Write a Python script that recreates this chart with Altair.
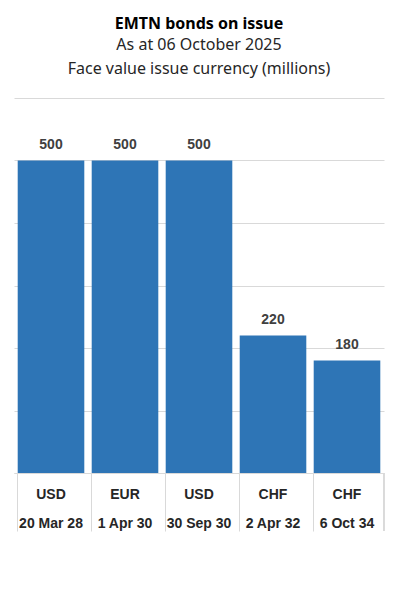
import altair as alt
import pandas as pd

currencies = ["USD", "EUR", "USD", "CHF", "CHF"]
maturities = ["20 Mar 28", "1 Apr 30", "30 Sep 30", "2 Apr 32", "6 Oct 34"]
values = [500, 500, 500, 220, 180]

df = pd.DataFrame({
    "label": [f"{c}|{m}" for c, m in zip(currencies, maturities)],
    "value": values,
})

W, H = 370, 375
FONT = "Liberation Sans"

x = alt.X(
    "label:N",
    sort=None,
    scale=alt.Scale(paddingInner=0.1, paddingOuter=0.05),
    axis=alt.Axis(
        title=None,
        labelAngle=0,
        labelExpr="split(datum.label, '|')",
        labelFont=FONT,
        labelFontSize=14,
        labelFontWeight="bold",
        labelColor="#262626",
        labelLineHeight=29,
        labelPadding=-44,
        bandPosition=0,
        tickSize=58,
        tickColor="#d9d9d9",
        domainColor="#d9d9d9",
        grid=False,
    ),
)

y = alt.Y(
    "value:Q",
    scale=alt.Scale(domain=[0, 600]),
    axis=alt.Axis(
        title=None,
        labels=False,
        ticks=False,
        domain=False,
        values=[0, 100, 200, 300, 400, 500, 600],
        gridColor="#d9d9d9",
    ),
)

base = alt.Chart(df).encode(x=x, y=y)

bars = base.mark_bar(color="#2E75B6")

text = base.mark_text(
    dy=-9, baseline="bottom", font=FONT, fontSize=14, fontWeight="bold", color="#404040"
).encode(text="value:Q")

edge = alt.Chart(df).mark_rule(color="#d9d9d9").encode(
    x=alt.value(W), y=alt.value(H), y2=alt.value(H + 58)
)

chart = alt.layer(bars, text, edge).properties(
    width=W,
    height=H,
    background="white",
    autosize=alt.AutoSizeParams(type="none"),
    padding={"left": 6, "top": 90, "right": 8, "bottom": 70},
    title=alt.TitleParams(
        text="EMTN bonds on issue",
        subtitle=["As at 06 October 2025", "Face value issue currency (millions)"],
        font="Noto Sans",
        fontSize=16,
        fontWeight="bold",
        color="#000000",
        subtitleFont="Noto Sans",
        subtitleFontSize=16,
        subtitleColor="#262626",
        subtitleLineHeight=24,
        subtitlePadding=5,
        anchor="middle",
        offset=21,
    ),
).configure_view(strokeWidth=0)

chart.save("out.html", embed_options={"renderer": "svg", "actions": False})
